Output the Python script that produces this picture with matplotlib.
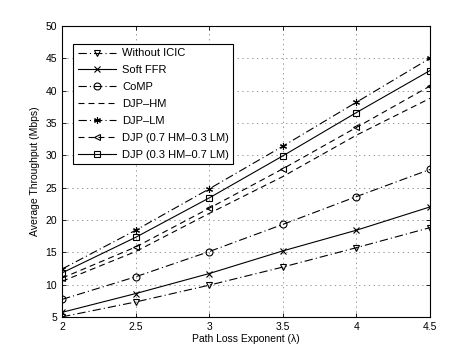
import matplotlib
matplotlib.use("Agg")
import matplotlib.pyplot as plt

plt.rcParams['font.family'] = ['Liberation Sans', 'DejaVu Sans']
plt.rcParams['lines.scale_dashes'] = False

path_loss = [2, 2.5, 3, 3.5, 4, 4.5]

without_icic = [5.0, 7.3, 9.9, 12.7, 15.7, 18.8]
soft_ffr = [5.7, 8.6, 11.7, 15.2, 18.4, 22.0]
comp = [7.7, 11.2, 15.1, 19.3, 23.6, 27.8]
djp_hm = [10.5, 15.1, 21.0, 26.7, 33.1, 38.8]
djp_lm = [12.4, 18.4, 24.8, 31.4, 38.2, 45.0]
djp_07hm = [11.0, 15.8, 21.8, 27.9, 34.3, 40.7]
djp_03hm = [11.8, 17.3, 23.4, 29.9, 36.6, 43.1]

labels = ["Without ICIC", "Soft FFR", "CoMP", "DJP\u2013HM", "DJP\u2013LM",
          "DJP (0.7 HM\u20130.3 LM)", "DJP (0.3 HM\u20130.7 LM)"]

dashdot = (0, (6, 2.2, 0.8, 2.2))
dashed = (0, (4.3, 2.9))

fig = plt.figure(figsize=(4.74, 3.56), dpi=100)
ax = fig.add_axes([0.131, 0.110, 0.776, 0.817])

style = dict(color="black", linewidth=0.8, markersize=5,
             markerfacecolor="none", markeredgewidth=0.8)
ax.plot(path_loss, without_icic, linestyle=dashdot, marker="v", label=labels[0], **style)
ax.plot(path_loss, soft_ffr, linestyle="-", marker="x", label=labels[1], **style)
ax.plot(path_loss, comp, linestyle=dashdot, marker="o", label=labels[2], **style)
ax.plot(path_loss, djp_hm, linestyle=dashed, marker=None, label=labels[3], **style)
ax.plot(path_loss, djp_lm, linestyle=dashdot, marker=(6, 2, 0), label=labels[4], **style)
ax.plot(path_loss, djp_07hm, linestyle=dashed, marker="<", label=labels[5], **style)
ax.plot(path_loss, djp_03hm, linestyle="-", marker="s", label=labels[6], **style)

ax.set_xlim(2, 4.5)
ax.set_ylim(5, 50)
ax.set_xticks(path_loss)
ax.set_xticklabels(["2", "2.5", "3", "3.5", "4", "4.5"])
ax.set_yticks(range(5, 51, 5))
ax.tick_params(direction="in", labelsize=7.5, length=3, width=0.6, top=True, right=True)
ax.grid(True, linestyle=(0, (1, 2.5)), color="#999999", linewidth=0.7)
for s in ax.spines.values():
    s.set_linewidth(0.8)

ax.set_xlabel("Path Loss Exponent (\u03bb)", fontsize=7.5, labelpad=2)
ax.set_ylabel("Average Throughput (Mbps)", fontsize=7.5, labelpad=4)

leg = ax.legend(loc="upper left", bbox_to_anchor=(0.03, 0.938), borderaxespad=0,
                fontsize=8, handlelength=3.5, labelspacing=0.62, fancybox=False,
                framealpha=1, edgecolor="black", borderpad=0.4, handletextpad=0.5)
leg.get_frame().set_linewidth(0.8)

fig.savefig("out.png", dpi=100)
